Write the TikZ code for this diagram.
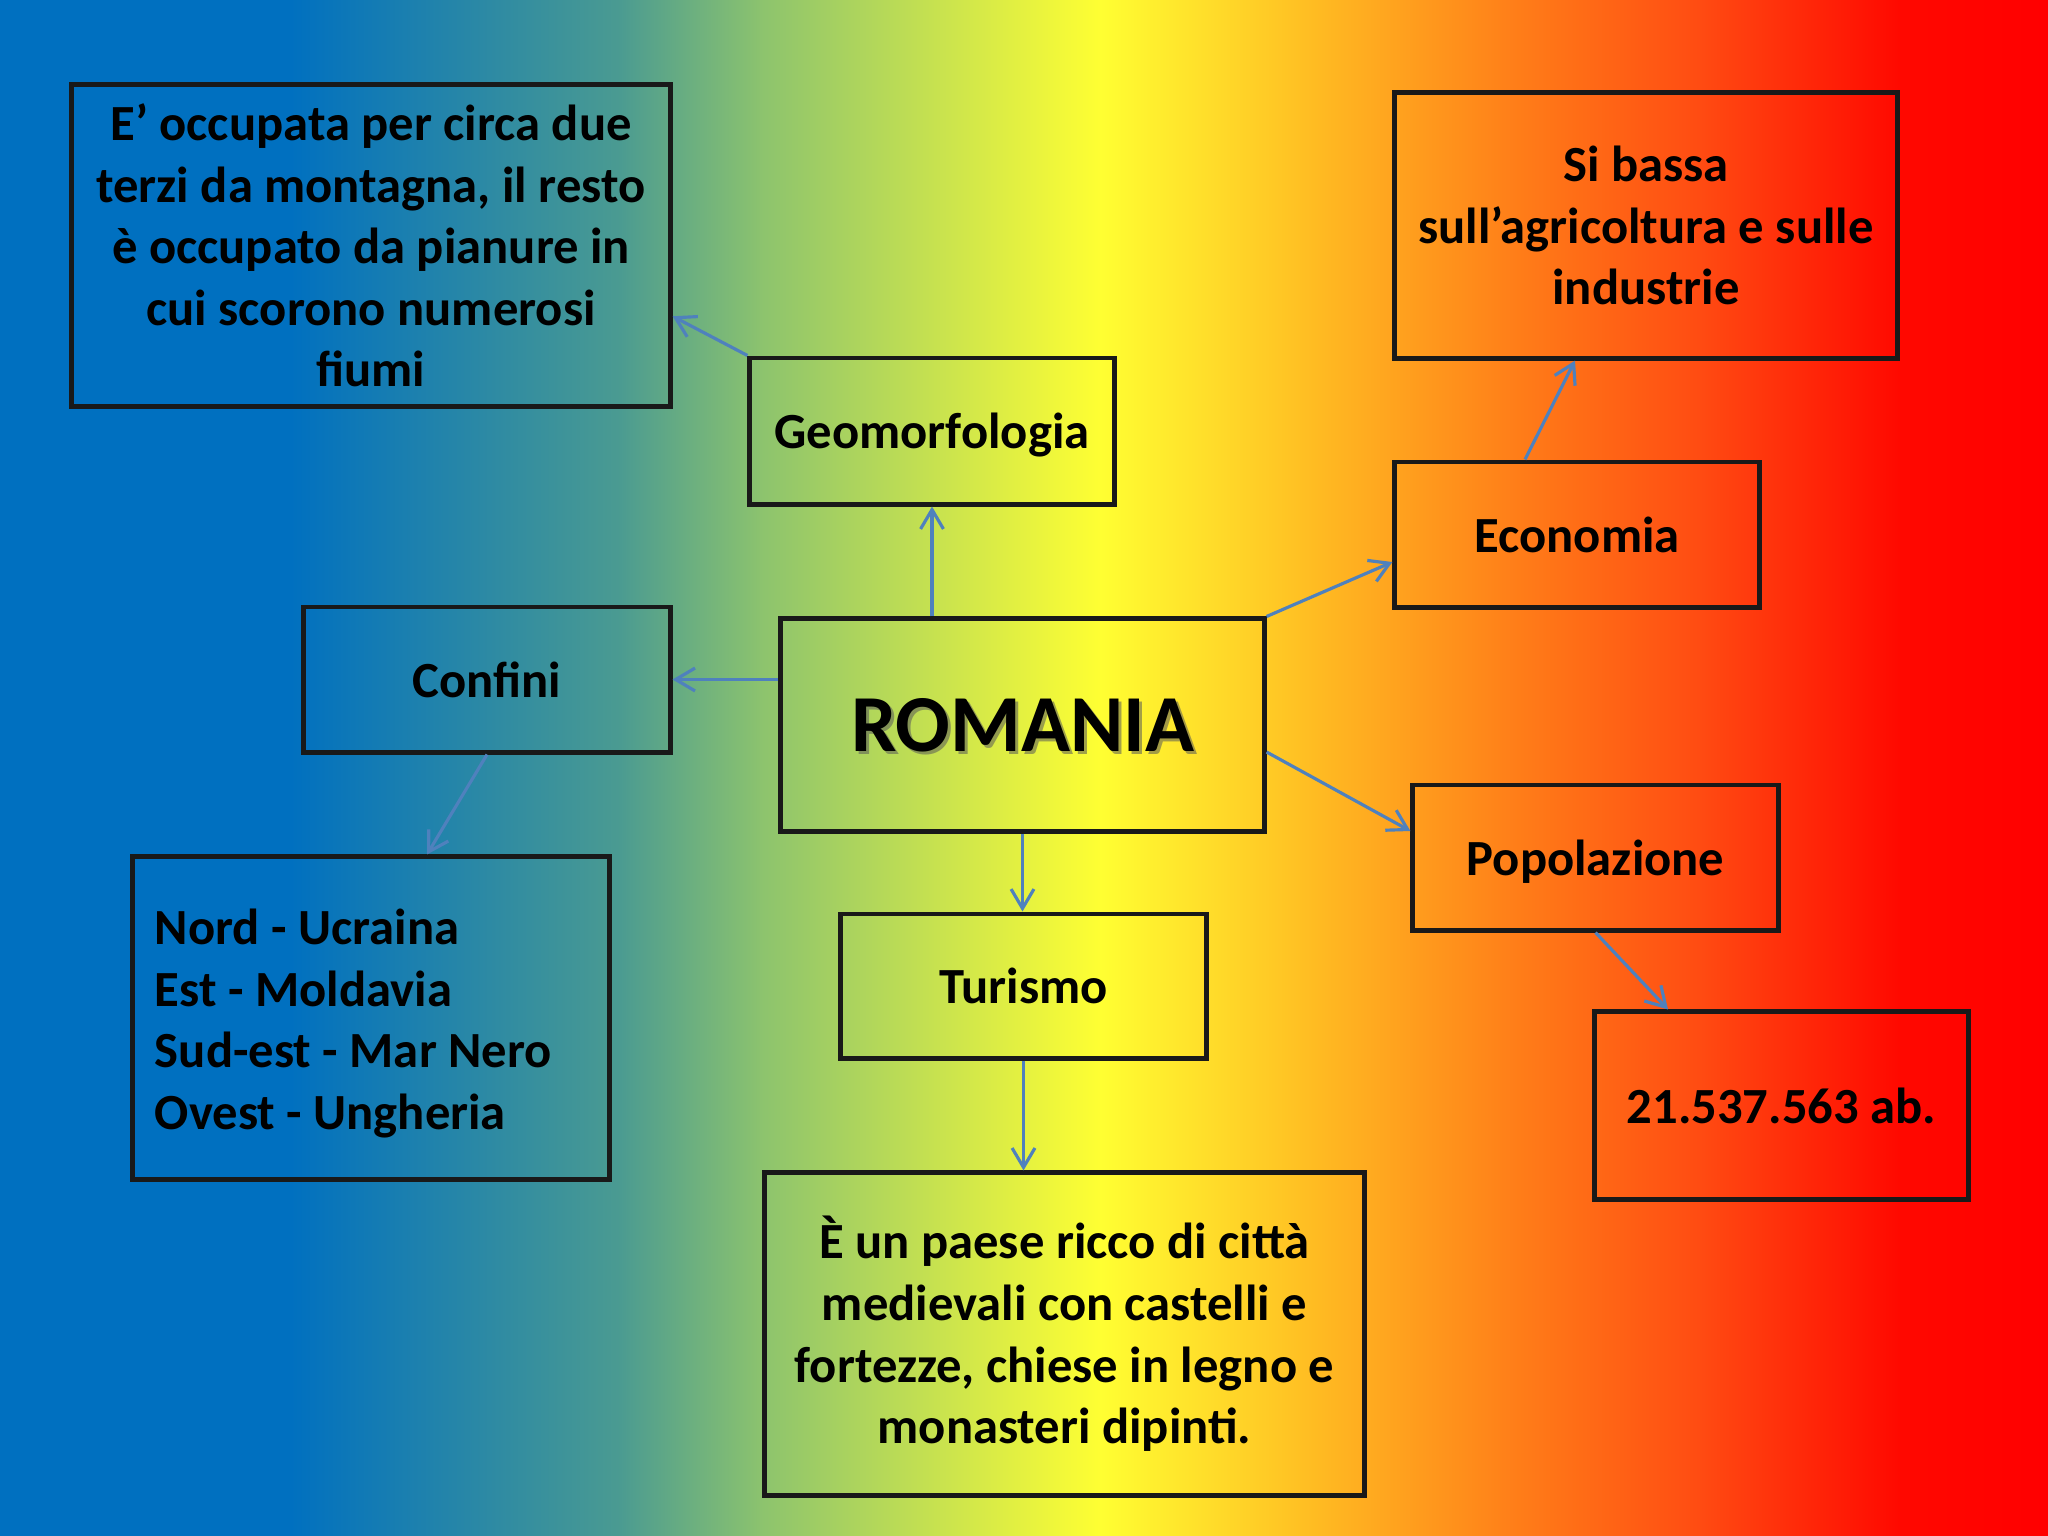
\documentclass[tikz,border=0pt]{standalone}
\usepackage{fontspec}
\setmainfont{Carlito}
\usetikzlibrary{arrows.meta,calc}
\definecolor{bgA}{RGB}{0,112,192}
\definecolor{bgB}{RGB}{75,155,145}
\definecolor{bgC}{RGB}{140,195,110}
\definecolor{bgD}{RGB}{255,255,50}
\definecolor{bgE}{RGB}{255,192,35}
\definecolor{bgF}{RGB}{255,130,25}
\definecolor{bgG}{RGB}{255,75,18}
\definecolor{bgH}{RGB}{255,8,0}
\definecolor{bgI}{RGB}{255,0,0}
\definecolor{arrowblue}{RGB}{79,129,189}
\tikzset{
  box/.style={draw=black!90, line width=1.4pt, inner sep=0pt, align=center,
    font=\bfseries\fontsize{14.4}{17.5}\selectfont, text=black},
  single/.style={text depth=0pt},
  link/.style={draw=arrowblue, line width=0.9pt, -{Straight Barb[length=5.5pt,width=6.5pt]}},
  seg/.style={draw=none}
}
\begin{document}
\begin{tikzpicture}[x=0.01cm,y=-0.01cm]
\useasboundingbox (0,0) rectangle (2048,1536);
% background gradient
\fill[bgA] (0,0) rectangle (292,1536);
\shade[seg,left color=bgA,right color=bgB] (290,0) rectangle (622,1536);
\shade[seg,left color=bgB,right color=bgC] (620,0) rectangle (762,1536);
\shade[seg,left color=bgC,right color=bgD] (760,0) rectangle (1102,1536);
\shade[seg,left color=bgD,right color=bgE] (1100,0) rectangle (1302,1536);
\shade[seg,left color=bgE,right color=bgF] (1300,0) rectangle (1502,1536);
\shade[seg,left color=bgF,right color=bgG] (1500,0) rectangle (1702,1536);
\shade[seg,left color=bgG,right color=bgH] (1700,0) rectangle (1902,1536);
\shade[seg,left color=bgH,right color=bgI] (1900,0) rectangle (2048,1536);

% nodes
\node[box, minimum width=5.98cm, minimum height=3.21cm] (desc) at (371,245.5)
  {E’ occupata per circa due\\terzi da montagna, il resto\\è occupato da pianure in\\cui scorono numerosi\\fiumi};
\node[box, single, minimum width=3.64cm, minimum height=1.46cm] (geo) at (932,431) {Geomorfologia};
\node[box, single, minimum width=3.66cm, minimum height=1.45cm] (confini) at (487,679.5) {Confini};
\node[text=gray!70!black, opacity=0.55, font=\bfseries\fontsize{23}{28}\selectfont] (romshadow) at (1025.5,728) {ROMANIA};
\node[box, minimum width=4.83cm, minimum height=2.12cm, font=\bfseries\fontsize{23}{28}\selectfont] (romania) at (1022.5,725) {ROMANIA};
\node[box, single, minimum width=3.64cm, minimum height=1.45cm] (eco) at (1577,534.5) {Economia};
\node[box, minimum width=5.02cm, minimum height=2.65cm] (ecodesc) at (1646,225.5)
  {Si bassa\\sull’agricoltura e sulle\\industrie};
\node[box, single, minimum width=3.65cm, minimum height=1.45cm] (pop) at (1595.5,857.5) {Popolazione};
\node[box, single, minimum width=3.73cm, minimum height=1.87cm] (abit) at (1781.5,1105.5) {21.537.563 ab.};
\node[box, single, minimum width=3.65cm, minimum height=1.44cm] (tur) at (1023.5,986) {Turismo};
\node[box, minimum width=5.99cm, minimum height=3.22cm] (turdesc) at (1064.5,1334)
  {È un paese ricco di città\\medievali con castelli e\\fortezze, chiese in legno e\\monasteri dipinti.};
\node[box, minimum width=4.76cm, minimum height=3.22cm, text width=4.32cm, align=flush left, text depth=51.8pt] (list) at (371,1018)
  {\spaceskip=0pt\xspaceskip=0pt\relax Nord - Ucraina\\Est - Moldavia\\Sud-est - Mar Nero\\Ovest - Ungheria};

% connectors
\draw[link] (geo.north west) -- ($(desc.south east)!0.283!(desc.north east)$);
\draw[link] (romania.north -| geo.south) -- (geo.south);
\draw[link] (romania.west |- confini.east) -- (confini.east);
\draw[link] (confini.south) -- ($(list.north)+(56,0)$);
\draw[link] (romania.south) -- (romania.south |- tur.north);
\draw[link] (tur.south) -- (tur.south |- turdesc.north);
\draw[link] (romania.north east) -- ($(eco.west)+(0,27.5)$);
\draw[link] ($(eco.north)+(-52,0)$) -- ($(ecodesc.south)+(-71,0)$);
\draw[link] ($(romania.east)+(0,27)$) -- ($(pop.west)+(0,-26.5)$);
\draw[link] (pop.south) -- ($(abit.north)+(-113.5,0)$);
\end{tikzpicture}
\end{document}
